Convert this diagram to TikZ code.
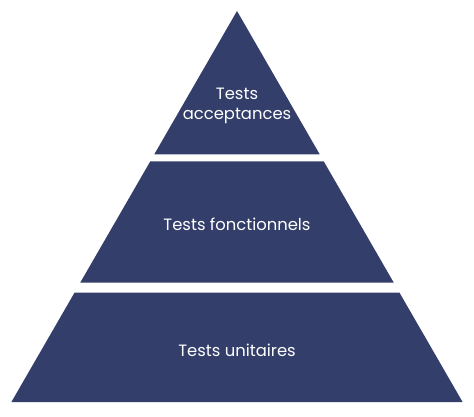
\documentclass[tikz,border=0pt]{standalone}
\usepackage{fontspec}
\setsansfont{Poppins}
\usepackage{xcolor}
\definecolor{pyrnavy}{HTML}{333E6B}
\usetikzlibrary{positioning, calc}

\begin{document}
\begin{tikzpicture}[
  x=1pt, y=1pt,
  band/.style={fill=pyrnavy},
  label/.style={text=white, font=\sffamily\fontsize{16.4}{19.5}\selectfont, align=center}
]
  \useasboundingbox (0,0) rectangle (474,416);

  % --- corners of the bands ---
  \coordinate (apex) at (237, 405);
  \coordinate (tl) at (154.3, 261.7);
  \coordinate (tr) at (319.7, 261.7);
  \coordinate (ml) at (150.3, 254.7);
  \coordinate (mr) at (323.7, 254.7);
  \coordinate (mbl) at (80.2, 133.3);
  \coordinate (mbr) at (393.8, 133.3);
  \coordinate (bl) at (74.5, 123.3);
  \coordinate (br) at (399.5, 123.3);
  \coordinate (bbl) at (11.4, 14);
  \coordinate (bbr) at (462.6, 14);

  % Bands
  \fill[band] (apex) -- (tr) -- (tl) -- cycle;
  \fill[band] (ml) -- (mr) -- (mbr) -- (mbl) -- cycle;
  \fill[band] (bl) -- (br) -- (bbr) -- (bbl) -- cycle;

  % Labels
  \node[label] (top) at (237, 310) {Tests\\acceptances};
  \node[label] (mid) at (237, 192) {Tests fonctionnels};
  \node[label] (bot) at (237, 66) {Tests unitaires};
\end{tikzpicture}
\end{document}
